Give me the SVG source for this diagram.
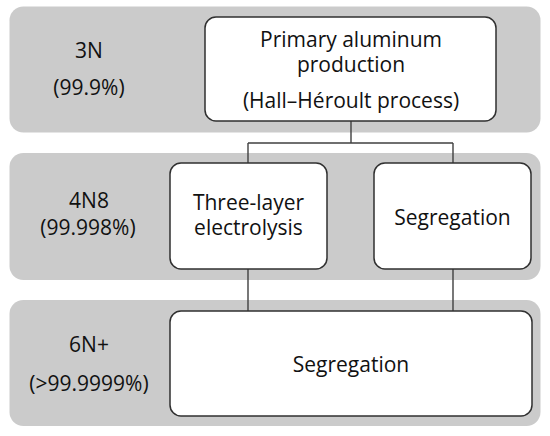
<svg xmlns="http://www.w3.org/2000/svg" width="550" height="436" viewBox="0 0 550 436">
<style>
.band{fill:#cbcbcb;}
.box{fill:#ffffff;stroke:#303030;stroke-width:1.5;}
.conn{fill:none;stroke:#404040;stroke-width:1.4;}
text{font-family:"Open Sans","Liberation Sans",sans-serif;font-size:21px;fill:#111;text-anchor:middle;}
</style>
<rect width="550" height="436" fill="#ffffff"/>
<g id="bands">
<rect id="band-3N" class="band" x="9.5" y="6.5" width="531" height="126" rx="14"/>
<rect id="band-4N8" class="band" x="9.5" y="153" width="531" height="127" rx="14"/>
<rect id="band-6N" class="band" x="9.5" y="300" width="531" height="126" rx="14"/>
</g>
<g id="connectors">
<path class="conn" d="M351 121 V143 M248 143 H453 M248 143 V163 M453 143 V163"/>
<path class="conn" d="M248 269 V311 M453 269 V311"/>
</g>
<g id="label-3N">
<text x="89" y="58">3N</text>
<text x="89" y="95">(99.9%)</text>
</g>
<g id="label-4N8">
<text x="89" y="208">4N8</text>
<text x="88" y="235">(99.998%)</text>
</g>
<g id="label-6N">
<text x="89" y="352">6N+</text>
<text x="89" y="391">(&gt;99.9999%)</text>
</g>
<g id="node-primary">
<rect class="box" x="205" y="17" width="291" height="104" rx="11"/>
<text x="351" y="47">Primary aluminum</text>
<text x="351" y="72">production</text>
<text x="351" y="108">(Hall–Héroult process)</text>
</g>
<g id="node-three-layer">
<rect class="box" x="170" y="163" width="157" height="106" rx="11"/>
<text x="248.5" y="210">Three-layer</text>
<text x="248.5" y="235">electrolysis</text>
</g>
<g id="node-segregation-1">
<rect class="box" x="374" y="163" width="157" height="106" rx="11"/>
<text x="452.5" y="225">Segregation</text>
</g>
<g id="node-segregation-2">
<rect class="box" x="170" y="311" width="362" height="105" rx="11"/>
<text x="351" y="372">Segregation</text>
</g>
</svg>
